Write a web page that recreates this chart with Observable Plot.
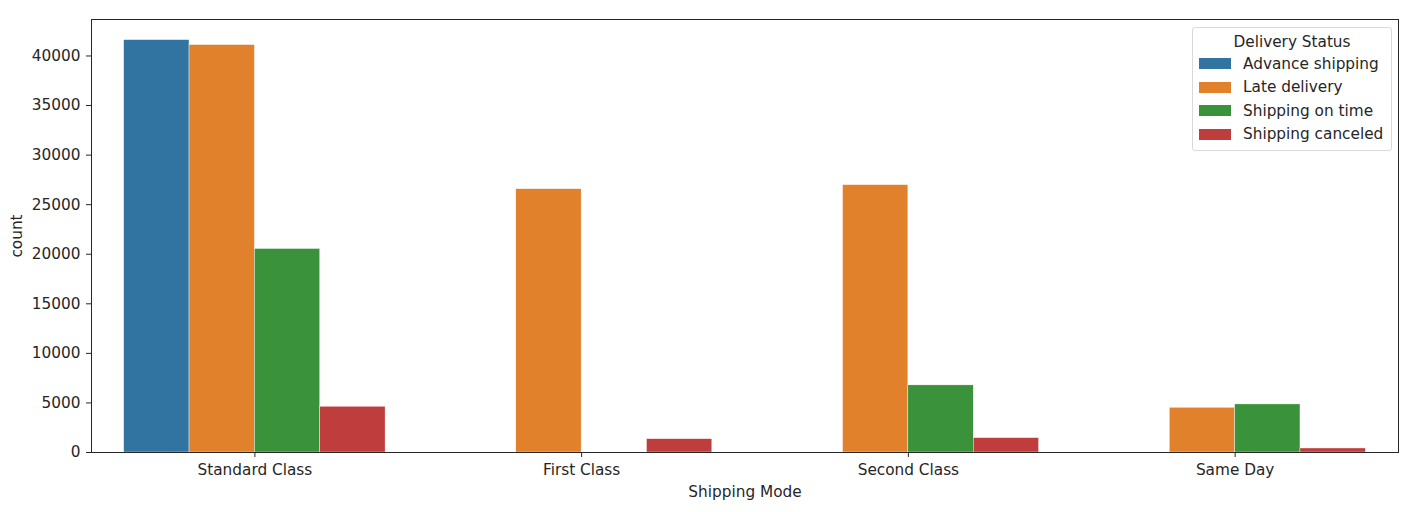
<!DOCTYPE html>
<html>
<head>
<meta charset="utf-8">
<script src="https://cdn.jsdelivr.net/npm/d3@7"></script>
<script src="https://cdn.jsdelivr.net/npm/@observablehq/plot@0.6"></script>
<style>
  body { margin: 0; background: #fff; font-family: "DejaVu Sans", sans-serif; }
  #wrap { position: relative; width: 1422px; height: 512px; }
  #legend { position: absolute; left: 1192px; top: 27px; width: 198px; height: 122px;
    border: 1px solid #d9d9d9; border-radius: 3px; background: rgba(255,255,255,0.8);
    font-size: 15.3px; line-height: 18px; color: #262626; }
  #legend .title { position: absolute; left: 0; right: 0; top: 5px; text-align: center; }
  #legend .sw { position: absolute; left: 6px; width: 32px; height: 11px; }
  #legend .lab { position: absolute; left: 50px; white-space: nowrap; }
</style>
</head>
<body>
<div id="wrap"><div id="chart"></div><div id="legend"></div></div>
<script>
const modes = ["Standard Class", "First Class", "Second Class", "Same Day"];
const statuses = ["Advance shipping", "Late delivery", "Shipping on time", "Shipping canceled"];
const colors = ["#3274a1", "#e1812c", "#3a923a", "#c03d3e"];
// counts per status, in order of modes
const advanceShipping = [41600, 0, 0, 0];
const lateDelivery = [41100, 26560, 26970, 4510];
const shippingOnTime = [20530, 0, 6770, 4850];
const shippingCanceled = [4615, 1345, 1450, 405];
const yTicks = [0, 5000, 10000, 15000, 20000, 25000, 30000, 35000, 40000];

const series = [advanceShipping, lateDelivery, shippingOnTime, shippingCanceled];
const data = [];
series.forEach((vals, si) => vals.forEach((v, mi) => {
  if (v > 0) data.push({mode: modes[mi], status: statuses[si], count: v, mi, si});
}));
const groupWidth = 0.8, barW = groupWidth / statuses.length;

const chart = Plot.plot({
  width: 1422, height: 512,
  marginLeft: 91, marginRight: 24, marginTop: 19, marginBottom: 60,
  style: {fontFamily: "DejaVu Sans, sans-serif", fontSize: "15.3px", color: "#262626", background: "#fff"},
  x: {type: "linear", domain: [-0.5, modes.length - 0.5], ticks: d3.range(modes.length),
      tickFormat: i => modes[i], tickSize: 5, tickPadding: 7,
      label: "Shipping Mode", labelAnchor: "center", labelArrow: "none", labelOffset: 44},
  y: {domain: [0, d3.max(data, d => d.count) * 1.05], ticks: yTicks, tickFormat: d => String(d),
      tickSize: 5, tickPadding: 6,
      label: "count", labelAnchor: "center", labelArrow: "none", labelOffset: 80},
  color: {domain: statuses, range: colors},
  marks: [
    Plot.rectY(data, {
      x1: d => d.mi - groupWidth / 2 + d.si * barW,
      x2: d => d.mi - groupWidth / 2 + (d.si + 1) * barW,
      y1: 0, y2: "count", fill: "status", stroke: "#fff", strokeWidth: 0.4
    }),
    Plot.frame({stroke: "#262626", strokeWidth: 1})
  ]
});
document.getElementById("chart").appendChild(chart);

const lg = document.getElementById("legend");
const rowCenters = [35.5, 59, 82.5, 106];
lg.innerHTML = '<div class="title">Delivery Status</div>' +
  statuses.map((s, i) => `<div class="sw" style="background:${colors[i]};top:${rowCenters[i] - 5.5}px"></div>` +
    `<div class="lab" style="top:${rowCenters[i] - 9}px">${s}</div>`).join("");
</script>
</body>
</html>
